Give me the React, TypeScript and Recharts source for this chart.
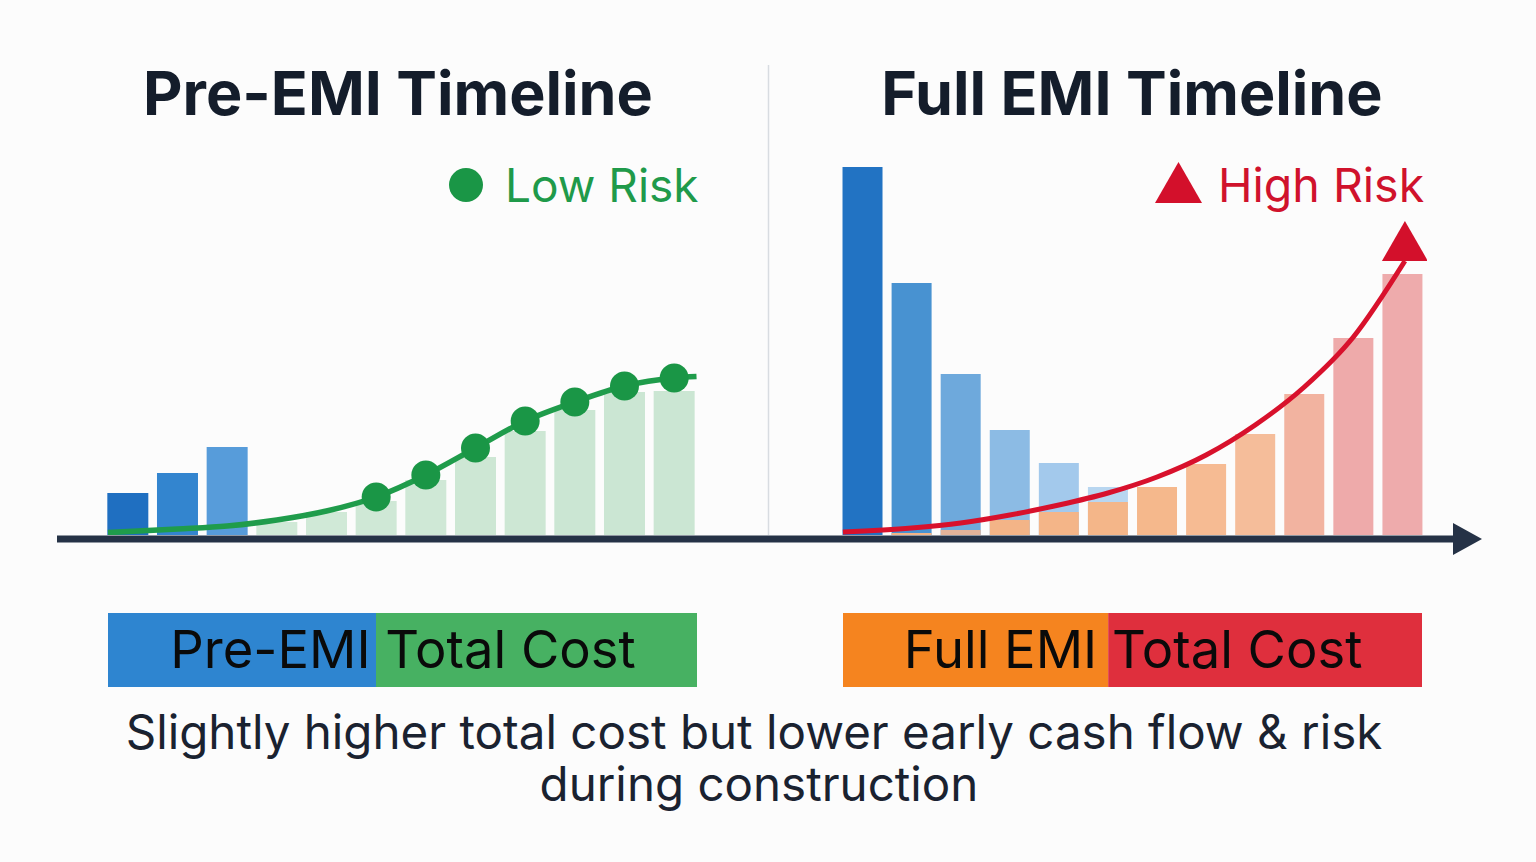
import React from 'react';
import { ComposedChart, BarChart, Bar, Line, XAxis, YAxis, Cell } from 'recharts';

// ---- Data ----
const months = ['M1', 'M2', 'M3', 'M4', 'M5', 'M6', 'M7', 'M8', 'M9', 'M10', 'M11', 'M12'];

// Pre-EMI panel
const preBars = [10.5, 15.5, 22, 3.25, 5.75, 8.5, 13.75, 19.5, 26, 31.25, 35.75, 36];
const preBarColors = ['#1f6fc1', '#3385cf', '#579cda', '#d0e9d7', '#d0e9d7', '#cfe8d6', '#cfe8d6', '#cde7d4', '#cde7d4', '#cbe6d3', '#cbe6d3', '#cbe6d3'];
// risk curve: position along the timeline (in month slots) and level
const preCurvePos = [0.1, 1.5, 2.5, 3.5, 4.5, 5.5, 6.5, 7.5, 8.5, 9.5, 10.5, 11.5, 11.95];
const preCurve = [0.6, 1.5, 2.25, 3.75, 6, 9.5, 15, 21.75, 28.5, 33.25, 37.25, 39.25, 39.6];
const preCurveMarked = [false, false, false, false, false, true, true, true, true, true, true, true, false];

// Full EMI panel
const fullBlue = [92, 63, 40.25, 26.25, 18, 12, 0, 0, 0, 0, 0, 0];
const fullOrange = [0, 0.5, 1.25, 3.75, 5.75, 8.25, 12, 17.75, 25.25, 35.25, 49.25, 65.25];
const fullBlueColors = ['#2273c3', '#4892d1', '#6ea9dc', '#8cbbe4', '#a3c9ec', '#b8d6f0', '#b8d6f0', '#b8d6f0', '#b8d6f0', '#b8d6f0', '#b8d6f0', '#b8d6f0'];
const fullOrangeColors = ['#f3b487', '#f3b487', '#e2b39a', '#f3b487', '#f4b588', '#f4b689', '#f5b88c', '#f6bb93', '#f5bd9a', '#f2b3a0', '#eeaaaa', '#eeabac'];
const fullCurvePos = [0.1, 1.5, 2.5, 3.5, 4.5, 5.5, 6.5, 7.5, 8.5, 9.5, 10.5, 11.55];
const fullCurve = [0.75, 1.75, 3, 5, 7.5, 10.5, 14.5, 20, 27.5, 37, 49.5, 68.5];

// Total cost split bars (share of bar, %)
const costRows = ['Pre-EMI', 'Full EMI'];
const costFirstShare = [45.5, 45.8];
const costSecondShare = [54.5, 54.2];
const costLabels = ['Pre-EMI Total Cost', 'Full EMI Total Cost'];
const costColors = [['#2e85d0', '#47b162'], ['#f5841f', '#df2f3d']];

// Texts
const titles = ['Pre-EMI Timeline', 'Full EMI Timeline'];
const riskLabels = ['Low Risk', 'High Risk'];
const captionLines = ['Slightly higher total cost but lower early cash flow & risk', 'during construction'];

const preData = months.map((m, i) => ({ m, bar: preBars[i] }));
const preLine = preCurvePos.map((x, i) => ({ x, y: preCurve[i], mark: preCurveMarked[i] }));
const fullData = months.map((m, i) => ({ m, blue: fullBlue[i], orange: fullOrange[i] }));
const fullLine = fullCurvePos.map((x, i) => ({ x, y: fullCurve[i] }));

const GreenDot = (props: any) => {
  const { cx, cy, index, payload } = props;
  if (!payload || !payload.mark || cx == null) return <g key={`gd${index}`} />;
  return <circle key={`gd${index}`} cx={cx} cy={cy} r={14.5} fill="#1a9646" />;
};

const RedArrow = (props: any) => {
  const { cx, cy, index } = props;
  if (index !== fullLine.length - 1 || cx == null) return <g key={`ra${index}`} />;
  return (
    <polygon
      key={`ra${index}`}
      points={`${cx - 23},${cy} ${cx + 23},${cy} ${cx},${cy - 40}`}
      fill="#d3102b"
    />
  );
};

const CostBar = ({ idx, left, width }: { idx: number; left: number; width: number }) => {
  const data = [{ name: costRows[idx], a: costFirstShare[idx], b: costSecondShare[idx] }];
  return (
    <div style={{ position: 'absolute', left, top: 613, width, height: 74 }}>
      <BarChart
        width={width}
        height={74}
        data={data}
        layout="vertical"
        margin={{ top: 0, right: 0, bottom: 0, left: 0 }}
        barCategoryGap={0}
      >
        <XAxis type="number" domain={[0, 100]} hide />
        <YAxis type="category" dataKey="name" hide />
        <Bar dataKey="a" stackId="s" fill={costColors[idx][0]} isAnimationActive={false} />
        <Bar dataKey="b" stackId="s" fill={costColors[idx][1]} isAnimationActive={false} />
      </BarChart>
    </div>
  );
};

export default function App() {
  return (
    <div
      style={{
        position: 'fixed',
        left: 0,
        top: 0,
        width: 1536,
        height: 862,
        background: '#fcfcfc',
        overflow: 'hidden',
      }}
    >
      {/* Pre-EMI chart */}
      <div style={{ position: 'absolute', left: 103, top: 135, width: 596, height: 400 }}>
        <ComposedChart
          width={596}
          height={400}
          data={preData}
          margin={{ top: 0, right: 0, bottom: 0, left: 0 }}
          barCategoryGap="8.7%"
        >
          <XAxis dataKey="m" hide />
          <XAxis xAxisId="pos" type="number" dataKey="x" domain={[0, 12]} allowDataOverflow hide />
          <YAxis domain={[0, 100]} hide />
          <Bar dataKey="bar" isAnimationActive={false}>
            {preData.map((_, i) => (
              <Cell key={i} fill={preBarColors[i]} />
            ))}
          </Bar>
          <Line
            data={preLine}
            xAxisId="pos"
            type="monotone"
            dataKey="y"
            stroke="#1f9c4b"
            strokeWidth={5.5}
            dot={GreenDot}
            activeDot={false}
            isAnimationActive={false}
          />
        </ComposedChart>
      </div>

      {/* Full EMI chart */}
      <div style={{ position: 'absolute', left: 838, top: 135, width: 589, height: 400 }}>
        <ComposedChart
          width={589}
          height={400}
          data={fullData}
          margin={{ top: 0, right: 0, bottom: 0, left: 0 }}
          barCategoryGap="9.2%"
        >
          <XAxis dataKey="m" hide />
          <XAxis dataKey="m" xAxisId="over" hide />
          <XAxis xAxisId="pos" type="number" dataKey="x" domain={[0, 12]} allowDataOverflow hide />
          <YAxis domain={[0, 100]} hide />
          <Bar dataKey="blue" isAnimationActive={false}>
            {fullData.map((_, i) => (
              <Cell key={i} fill={fullBlueColors[i]} />
            ))}
          </Bar>
          <Bar dataKey="orange" xAxisId="over" isAnimationActive={false}>
            {fullData.map((_, i) => (
              <Cell key={i} fill={fullOrangeColors[i]} />
            ))}
          </Bar>
          <Line
            data={fullLine}
            xAxisId="pos"
            type="monotone"
            dataKey="y"
            stroke="#d8112c"
            strokeWidth={5}
            dot={RedArrow}
            activeDot={false}
            isAnimationActive={false}
          />
        </ComposedChart>
      </div>

      <CostBar idx={0} left={108} width={589} />
      <CostBar idx={1} left={843} width={579} />

      {/* Text and decorations */}
      <svg
        width={1536}
        height={862}
        style={{ position: 'absolute', left: 0, top: 0, pointerEvents: 'none' }}
      >
        <line x1={768.5} y1={65} x2={768.5} y2={535} stroke="#d8dce1" strokeWidth={1.5} />
        <line x1={57} y1={539} x2={1456} y2={539} stroke="#253246" strokeWidth={7} />
        <polygon points="1453,523 1482,539 1453,555" fill="#253246" />

        <text x={398} y={115} textAnchor="middle" fontFamily="Inter" fontWeight={700} fontSize={61} fill="#141d2b">
          {titles[0]}
        </text>
        <text x={1132} y={115} textAnchor="middle" fontFamily="Inter" fontWeight={700} fontSize={61} fill="#141d2b">
          {titles[1]}
        </text>

        <circle cx={466} cy={185} r={17} fill="#1a9646" />
        <text x={505} y={202} fontFamily="Inter" fontSize={46} fill="#1f9a4a">
          {riskLabels[0]}
        </text>
        <polygon points="1155,203 1202,203 1178.5,162" fill="#d3102b" />
        <text x={1218} y={202} fontFamily="Inter" fontSize={46.5} fill="#d0122c">
          {riskLabels[1]}
        </text>

        <text x={403} y={668} textAnchor="middle" fontFamily="Inter" fontSize={52.5} fill="#0a0a0a">
          {costLabels[0]}
        </text>
        <text x={1133} y={668} textAnchor="middle" fontFamily="Inter" fontSize={52.5} fill="#0a0a0a">
          {costLabels[1]}
        </text>

        <text x={754} y={749} textAnchor="middle" fontFamily="Inter" fontSize={47.5} fill="#1a2230">
          {captionLines[0]}
        </text>
        <text x={759} y={801} textAnchor="middle" fontFamily="Inter" fontSize={47.5} fill="#1a2230">
          {captionLines[1]}
        </text>
      </svg>
    </div>
  );
}
